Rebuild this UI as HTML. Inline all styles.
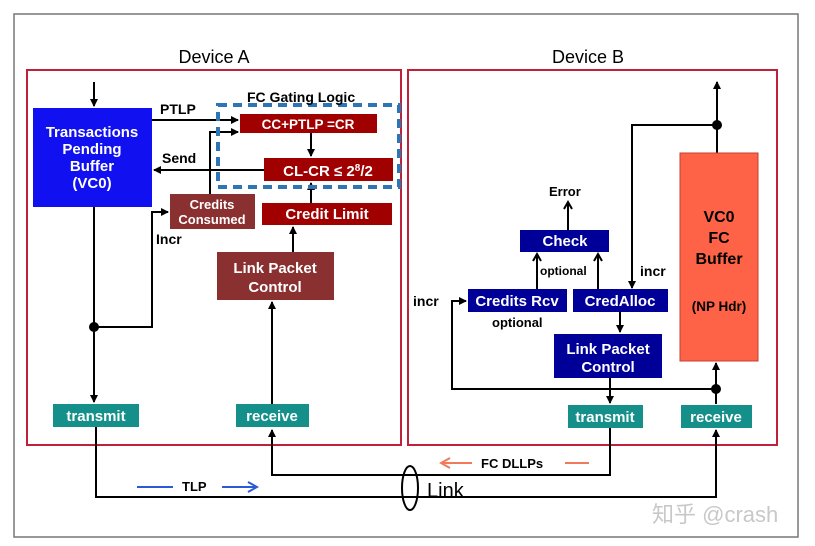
<!DOCTYPE html><html><head><style>body{margin:0;background:#fff}svg{display:block}text{font-family:"Liberation Sans",Arial,sans-serif}</style></head><body>
<svg width="815" height="546" viewBox="0 0 815 546" xmlns="http://www.w3.org/2000/svg">
<defs><marker id="a" markerWidth="8" markerHeight="8" refX="7" refY="4" orient="auto" markerUnits="userSpaceOnUse"><path d="M0,0L8,4L0,8z" fill="#000"/></marker>
<marker id="o" markerWidth="10" markerHeight="10" refX="8" refY="5" orient="auto" markerUnits="userSpaceOnUse"><path d="M1,1L8,5L1,9" fill="none" stroke="#000" stroke-width="2"/></marker>
<marker id="bl" markerWidth="12" markerHeight="12" refX="10" refY="6" orient="auto" markerUnits="userSpaceOnUse"><path d="M1,1L10,6L1,11" fill="none" stroke="#2a5ad8" stroke-width="2"/></marker>
<marker id="sa" markerWidth="12" markerHeight="12" refX="10" refY="6" orient="auto" markerUnits="userSpaceOnUse"><path d="M1,1L10,6L1,11" fill="none" stroke="#f07a5a" stroke-width="2"/></marker></defs>
<rect x="14" y="14" width="784" height="523" fill="none" stroke="#777" stroke-width="1.5"/>
<text x="214" y="63" font-size="18" text-anchor="middle">Device A</text>
<text x="588" y="63" font-size="18" text-anchor="middle">Device B</text>
<rect x="27" y="70" width="374" height="375" fill="none" stroke="#c0203a" stroke-width="2"/>
<rect x="408" y="70" width="369" height="375" fill="none" stroke="#c0203a" stroke-width="2"/>
<g stroke="#000" stroke-width="2" fill="none">
<line x1="94" y1="82" x2="94" y2="106" marker-end="url(#a)"/>
<line x1="152" y1="120" x2="238" y2="120" marker-end="url(#a)"/>
<line x1="264" y1="170" x2="154" y2="170" marker-end="url(#a)"/>
<line x1="311" y1="132" x2="311" y2="156" marker-end="url(#a)"/>
<polyline points="210,194 210,132 238,132" marker-end="url(#a)"/>
<line x1="311" y1="203" x2="311" y2="183" marker-end="url(#a)"/>
<line x1="293" y1="252" x2="293" y2="227" marker-end="url(#a)"/>
<line x1="94" y1="207" x2="94" y2="402" marker-end="url(#a)"/>
<polyline points="94,327 152,327 152,212 168,212" marker-end="url(#a)"/>
<line x1="272" y1="404" x2="272" y2="302" marker-end="url(#a)"/>
<polyline points="96,427 96,497 716,497 716,430" marker-end="url(#a)"/>
<polyline points="610,428 610,475 272,475 272,430" marker-end="url(#a)"/>
<line x1="717" y1="153" x2="717" y2="82" marker-end="url(#a)"/>
<polyline points="717,125 632,125 632,288" marker-end="url(#a)"/>
<line x1="568" y1="230" x2="568" y2="202" marker-end="url(#o)"/>
<line x1="537" y1="290" x2="537" y2="254" marker-end="url(#o)"/>
<line x1="598" y1="290" x2="598" y2="254" marker-end="url(#o)"/>
<line x1="620" y1="312" x2="620" y2="332" marker-end="url(#a)"/>
<line x1="610" y1="378" x2="610" y2="403" marker-end="url(#a)"/>
<line x1="716" y1="404" x2="716" y2="363" marker-end="url(#a)"/>
<polyline points="716,389 452,389 452,301 466,301" marker-end="url(#a)"/>
</g>
<circle cx="94" cy="327" r="5"/><circle cx="717" cy="125" r="5"/><circle cx="716" cy="389" r="5"/>
<rect x="218" y="105" width="181" height="82" fill="none" stroke="#2e75b6" stroke-width="4" stroke-dasharray="9,6"/>
<g font-weight="bold" fill="#fff" text-anchor="middle">
<rect x="33" y="108" width="119" height="99" fill="#1010f0"/>
<text font-size="15" x="92" y="137">Transactions</text><text font-size="15" x="92" y="154">Pending</text><text font-size="15" x="92" y="171">Buffer</text><text font-size="15" x="92" y="188">(VC0)</text>
<rect x="240" y="114" width="137" height="19" fill="#a00000"/><text x="308" y="129" font-size="13.5">CC+PTLP =CR</text>
<rect x="264" y="158" width="129" height="23" fill="#a00000"/><text x="328" y="176" font-size="15">CL-CR ≤ 2<tspan font-size="10" dy="-5">8</tspan><tspan dy="5">/2</tspan></text>
<rect x="170" y="194" width="85" height="35" fill="#8b3030"/><text x="212" y="209" font-size="13">Credits</text><text x="212" y="224" font-size="13">Consumed</text>
<rect x="262" y="203" width="130" height="22" fill="#a00000"/><text x="327" y="219" font-size="15">Credit Limit</text>
<rect x="217" y="252" width="117" height="48" fill="#8b3030"/><text x="275" y="273" font-size="15">Link Packet</text><text x="275" y="292" font-size="15">Control</text>
<rect x="53" y="404" width="86" height="23" fill="#148f8a"/><text x="96" y="421" font-size="15">transmit</text>
<rect x="236" y="404" width="73" height="23" fill="#148f8a"/><text x="272" y="421" font-size="15">receive</text>
<rect x="568" y="405" width="75" height="23" fill="#148f8a"/><text x="605" y="422" font-size="15">transmit</text>
<rect x="681" y="405" width="71" height="23" fill="#148f8a"/><text x="716" y="422" font-size="15">receive</text>
<rect x="520" y="230" width="89" height="22" fill="#000099"/><text x="565" y="246" font-size="15">Check</text>
<rect x="468" y="289" width="99" height="23" fill="#000099"/><text x="517" y="306" font-size="15">Credits Rcv</text>
<rect x="573" y="289" width="95" height="23" fill="#000099"/><text x="620" y="306" font-size="15">CredAlloc</text>
<rect x="554" y="334" width="108" height="44" fill="#000099"/><text x="608" y="354" font-size="15">Link Packet</text><text x="608" y="372" font-size="15">Control</text>
<rect x="680" y="153" width="78" height="208" fill="#ff6347" stroke="#c04030"/>
<g fill="#000" font-size="16"><text x="719" y="222">VC0</text><text x="719" y="243">FC</text><text x="719" y="264">Buffer</text><text x="719" y="311" font-size="13.5">(NP Hdr)</text></g>
</g>
<g font-weight="bold" font-size="14">
<text x="160" y="114">PTLP</text><text x="162" y="163">Send</text><text x="247" y="102">FC Gating Logic</text><text x="156" y="244">Incr</text>
<text x="549" y="196" font-size="13">Error</text><text x="540" y="275" font-size="12">optional</text><text x="640" y="276">incr</text>
<text x="413" y="306">incr</text><text x="492" y="327" font-size="13">optional</text>
<text x="182" y="491" font-size="13">TLP</text><text x="481" y="468" font-size="13">FC DLLPs</text>
</g>
<line x1="137" y1="487" x2="173" y2="487" stroke="#2a5ad8" stroke-width="2"/>
<line x1="222" y1="487" x2="257" y2="487" stroke="#2a5ad8" stroke-width="2" marker-end="url(#bl)"/>
<line x1="472" y1="463" x2="441" y2="463" stroke="#f07a5a" stroke-width="2" marker-end="url(#sa)"/>
<line x1="565" y1="463" x2="589" y2="463" stroke="#f07a5a" stroke-width="2"/>
<ellipse cx="410" cy="488" rx="8" ry="22" fill="none" stroke="#000" stroke-width="2"/>
<text x="427" y="497" font-size="20">Link</text>
<text x="652" y="522" font-size="22" fill="#c8c8c8" font-family="'Liberation Sans','Noto Sans CJK SC',sans-serif">知乎 @crash</text>
</svg></body></html>
